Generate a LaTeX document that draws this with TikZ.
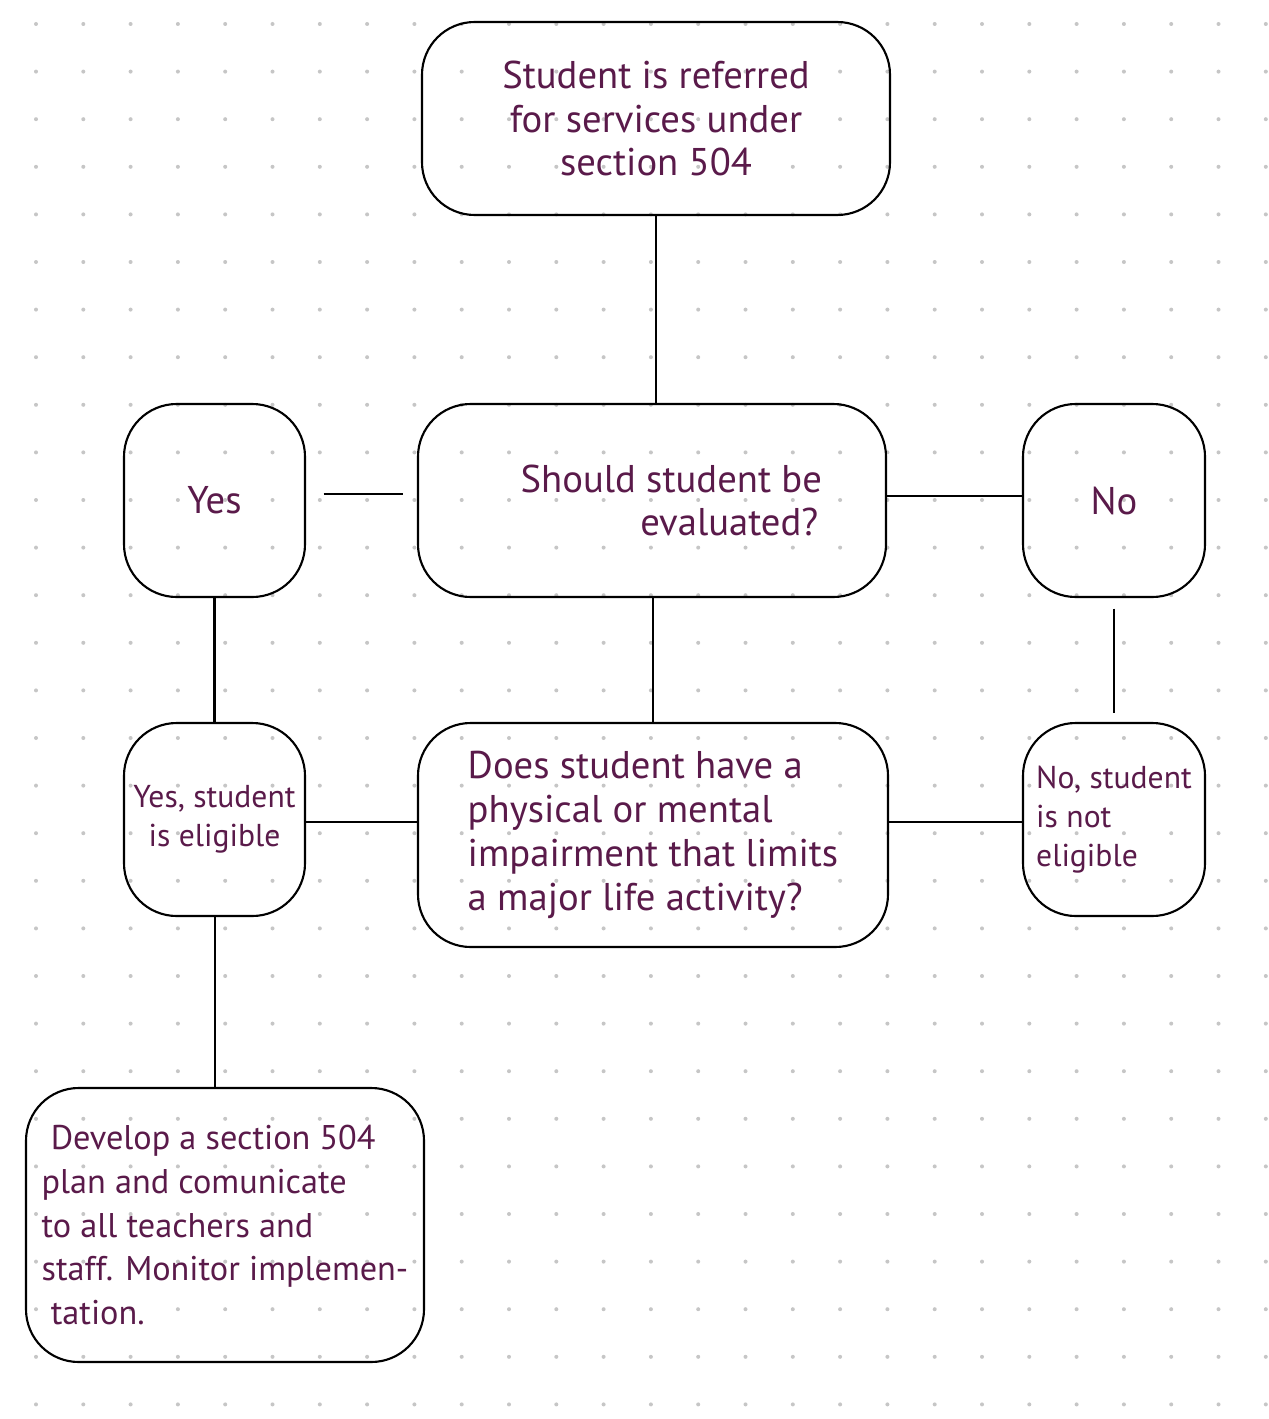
\documentclass[tikz,border=0pt]{standalone}
\usepackage{fontspec}
\setmainfont{PT Sans}
\begin{document}
\begin{tikzpicture}[x=0.02cm,y=-0.02cm,
  box/.style={draw,line width=1.2pt,rounded corners=30,align=center,text=ink,font=\fontsize{22}{25}\selectfont,inner sep=2pt},
  sm/.style={font=\fontsize{18}{22}\selectfont},
  ln/.style={line width=1.2pt}]
\definecolor{ink}{HTML}{5A1A4A}
\useasboundingbox (0,0) rectangle (1268,1419);
\fill[white] (0,0) rectangle (1268,1419);
\foreach \i in {0,...,26}{\foreach \j in {0,...,29}{
  \fill[gray!45] (36+47.3*\i,24+47.6*\j) circle (2);}}
\node[box,minimum width=468*0.02cm,minimum height=193*0.02cm] (top) at (656,118.5) {Student is referred\\for services under\\section 504};
\node[box,minimum width=468*0.02cm,minimum height=193*0.02cm] (mid) at (652,500.5) {\hspace*{1em}Should student be\\\hspace*{4em}evaluated?};
\node[box,minimum width=181*0.02cm,minimum height=193*0.02cm] (yes) at (214.5,500.5) {Yes};
\node[box,minimum width=182*0.02cm,minimum height=193*0.02cm] (no) at (1114,500.5) {No};
\node[box,sm,minimum width=181*0.02cm,minimum height=193*0.02cm] (yese) at (214.5,819.5) {Yes, student\\is eligible};
\node[box,minimum width=470*0.02cm,minimum height=224*0.02cm,align=left] (does) at (653,835) {Does student have a\\physical or mental\\impairment that limits\\a major life activity?};
\node[box,sm,minimum width=182*0.02cm,minimum height=193*0.02cm,align=left] (noe) at (1114,819.5) {No, student\\is not\\eligible};
\node[box,font=\fontsize{19.5}{25}\selectfont,minimum width=398*0.02cm,minimum height=274*0.02cm,align=left] (dev) at (225,1225) {\ Develop a section 504\\plan and comunicate\\to all teachers and\\staff. Monitor implemen-\\\ tation.};
\draw[ln] (top.south) -- (top.south|-mid.north);
\draw[ln,shorten <=10pt,shorten >=8pt] (yes.east|-0,494) -- (mid.west|-0,494);
\draw[ln] (mid.east|-0,496) -- (no.west|-0,496);
\draw[ln] (yes.south) -- (yes.south|-yese.north);
\draw[ln] (does.north) -- (does.north|-mid.south);
\draw[ln,shorten <=6pt,shorten >=5pt] (no.south) -- (no.south|-noe.north);
\draw[ln] (yese.east|-0,822) -- (does.west|-0,822);
\draw[ln] (does.east|-0,822) -- (noe.west|-0,822);
\draw[ln] (215,916) coordinate (a) -- (a|-dev.north);
\end{tikzpicture}
\end{document}
